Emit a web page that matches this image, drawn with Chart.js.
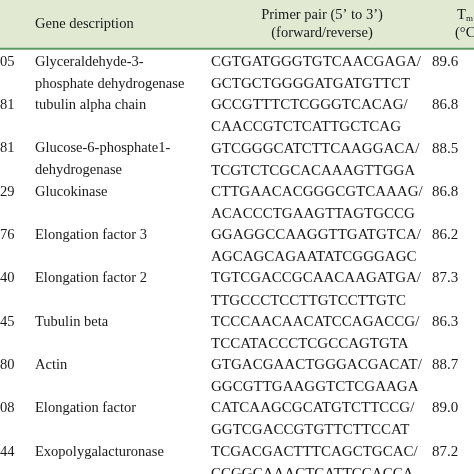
<!DOCTYPE html>
<html>
<head>
<meta charset="utf-8">
<script src="https://cdn.jsdelivr.net/npm/chart.js@4.4.0/dist/chart.umd.min.js"></script>
<style>
  html, body { margin: 0; padding: 0; background: #fff; }
  #wrap { width: 474px; height: 474px; }
</style>
</head>
<body>
<div id="wrap"><canvas id="tbl"></canvas></div>
<script>
const ids = ['05', '81', '81', '29', '76', '40', '45', '80', '08', '44'];
const genes = [
  ['Glyceraldehyde-3-', 'phosphate dehydrogenase'],
  ['tubulin alpha chain'],
  ['Glucose-6-phosphate1-', 'dehydrogenase'],
  ['Glucokinase'],
  ['Elongation factor 3'],
  ['Elongation factor 2'],
  ['Tubulin beta'],
  ['Actin'],
  ['Elongation factor'],
  ['Exopolygalacturonase']
];
const forward = [
  'CGTGATGGGTGTCAACGAGA/', 'GCCGTTTCTCGGGTCACAG/', 'GTCGGGCATCTTCAAGGACA/',
  'CTTGAACACGGGCGTCAAAG/', 'GGAGGCCAAGGTTGATGTCA/', 'TGTCGACCGCAACAAGATGA/',
  'TCCCAACAACATCCAGACCG/', 'GTGACGAACTGGGACGACAT/', 'CATCAAGCGCATGTCTTCCG/',
  'TCGACGACTTTCAGCTGCAC/'
];
const reverse = [
  'GCTGCTGGGGATGATGTTCT', 'CAACCGTCTCATTGCTCAG', 'TCGTCTCGCACAAAGTTGGA',
  'ACACCCTGAAGTTAGTGCCG', 'AGCAGCAGAATATCGGGAGC', 'TTGCCCTCCTTGTCCTTGTC',
  'TCCATACCCTCGCCAGTGTA', 'GGCGTTGAAGGTCTCGAAGA', 'GGTCGACCGTGTTCTTCCAT',
  'CCGGCAAACTCATTCCACCA'
];
const tm = ['89.6', '86.8', '88.5', '86.8', '86.2', '87.3', '86.3', '88.7', '89.0', '87.2'];

const colX = { id: 0, gene: 35, primer: 211, tm: 432 };
const ROW = 43.3;
const GENE_FONT = '14.5px "Liberation Serif", "DejaVu Serif", serif';
const PRIMER_FONT = '15px "Liberation Serif", "DejaVu Serif", serif';

const tablePlugin = {
  id: 'tablePlugin',
  afterDraw(chart) {
    const { ctx, scales: { x, y } } = chart;
    const px = (v) => x.getPixelForValue(v);
    const py = (v) => y.getPixelForValue(v);
    ctx.save();
    // header band
    ctx.fillStyle = '#e1e9d3';
    ctx.fillRect(px(0), 0, px(474) - px(0), py(-0.33));
    ctx.fillStyle = '#5f9a62';
    ctx.fillRect(px(0), py(-0.33), px(474) - px(0), 2);

    ctx.fillStyle = '#1a1a1a';
    ctx.font = GENE_FONT;
    ctx.textBaseline = 'middle';
    ctx.textAlign = 'left';
    ctx.fillText('Gene description', px(colX.gene), py(-0.88));
    ctx.textAlign = 'center';
    ctx.fillText('Primer pair (5\u2019 to 3\u2019)', px(322), py(-1.09));
    ctx.fillText('(forward/reverse)', px(322), py(-0.67));
    ctx.textAlign = 'left';
    ctx.fillText('T', px(457), py(-1.09));
    ctx.font = '9px "Liberation Serif", serif';
    ctx.fillText('m', px(466), py(-1.0));
    ctx.font = GENE_FONT;
    ctx.fillText('(\u00b0C', px(455), py(-0.67));

    ids.forEach((id, i) => {
      const y1 = py(i), y2 = py(i + 0.51);
      ctx.font = GENE_FONT;
      ctx.fillText(id, px(colX.id), y1);
      genes[i].forEach((g, k) => ctx.fillText(g, px(colX.gene), k ? y2 : y1));
      ctx.font = PRIMER_FONT;
      ctx.fillText(forward[i], px(colX.primer), y1);
      ctx.fillText(reverse[i], px(colX.primer), y2);
      ctx.fillText(tm[i], px(colX.tm), y1);
    });
    ctx.restore();
  }
};

new Chart(document.getElementById('tbl'), {
  type: 'scatter',
  data: { datasets: [{ data: [] }] },
  options: {
    responsive: true,
    maintainAspectRatio: false,
    animation: false,
    layout: { padding: 0 },
    plugins: { legend: { display: false }, tooltip: { enabled: false } },
    scales: {
      x: { type: 'linear', min: 0, max: 474, display: false },
      y: { type: 'linear', min: -62 / ROW, max: (474 - 62) / ROW, reverse: true, display: false }
    }
  },
  plugins: [tablePlugin]
});
</script>
</body>
</html>
